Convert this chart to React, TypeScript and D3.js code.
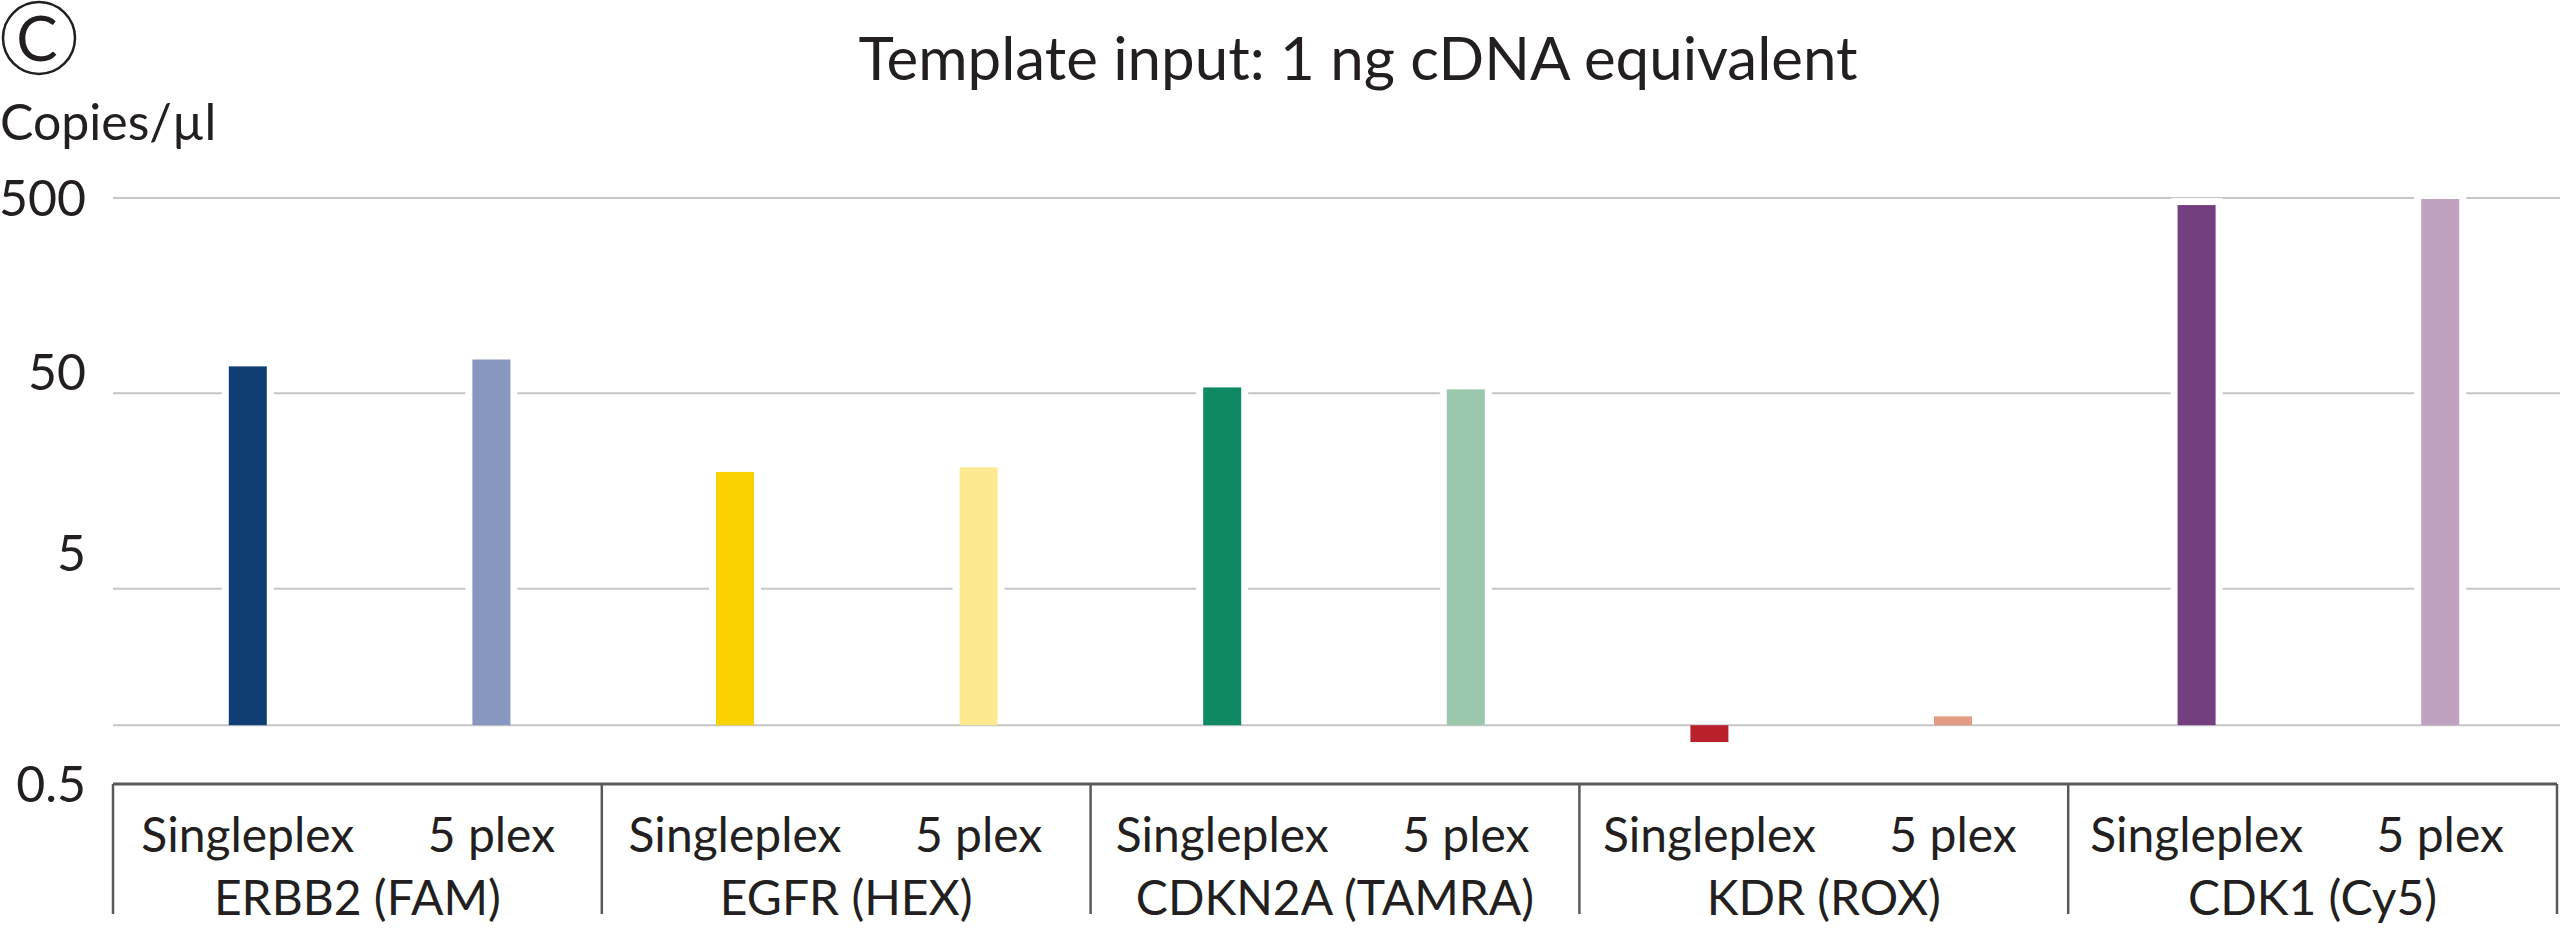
import { useMemo } from "react";
import * as d3 from "d3";

const GENES = ["ERBB2 (FAM)", "EGFR (HEX)", "CDKN2A (TAMRA)", "KDR (ROX)", "CDK1 (Cy5)"];
const ASSAYS = ["Singleplex", "5 plex"];
const SINGLEPLEX = [68.7, 19.8, 53.6, 0.82, 460];
const FIVE_PLEX = [74.5, 20.9, 52.4, 1.11, 494];
const Y_TICKS = [0.5, 5, 50, 500];
const Y_TICK_LABELS = ["0.5", "5", "50", "500"];

const SINGLE_COLORS = ["#103D73", "#F9D200", "#0E8963", "#B8202B", "#733F7F"];
const PLEX_COLORS = ["#8797C0", "#FDE98F", "#9BC8AD", "#E29A85", "#C0A2C0"];

// tick labels in the source sit a little above some gridlines
const TICK_SHIFT: Record<string, number> = { "0.5": 0, "5": -36, "50": -21, "500": 0 };

const W = 2560;
const H = 934;
const FONT = "Lato, 'Noto Sans', sans-serif";
const INK = "#231F20";
const GRID = "#C6C6C6";
const AXIS = "#58595B";
const BAR_W = 38;
const HALO = 7;

export default function App() {
  const rows = useMemo(
    () =>
      GENES.flatMap((g, i) => [
        { key: `${g}|${ASSAYS[0]}`, gene: g, assay: ASSAYS[0], value: SINGLEPLEX[i], color: SINGLE_COLORS[i] },
        { key: `${g}|${ASSAYS[1]}`, gene: g, assay: ASSAYS[1], value: FIVE_PLEX[i], color: PLEX_COLORS[i] },
      ]),
    [],
  );

  const y = d3.scaleLog().domain([0.5, 500]).range([784, 198]);
  const x = d3
    .scaleBand<string>()
    .domain(rows.map((r) => r.key))
    .range([126, 2562])
    .paddingInner(1 - BAR_W / 243.6)
    .paddingOuter((1 - BAR_W / 243.6) / 2);
  const group = d3.scaleBand<string>().domain(GENES).range([113, 2557]);

  const base = y(1);
  const axisY = y(0.5);
  const plotLeft = 113;

  return (
    <svg
      width={W}
      height={H}
      viewBox={`0 0 ${W} ${H}`}
      style={{ position: "absolute", left: 0, top: 0, display: "block", background: "#fff" }}
      fontFamily={FONT}
      fill={INK}
    >
      {/* panel letter */}
      <circle cx={39} cy={38} r={36} fill="none" stroke={INK} strokeWidth={2.5} />
      <text x={37} y={39} dy="0.36em" textAnchor="middle" fontSize={62}>
        C
      </text>

      <text x={1358} y={80} textAnchor="middle" fontSize={60}>
        Template input: 1 ng cDNA equivalent
      </text>
      <text x={0} y={140} fontSize={50}>
        Copies/µl
      </text>

      {/* gridlines */}
      {Y_TICKS.filter((t) => t > 0.5).map((t) => (
        <line key={t} x1={plotLeft} x2={W} y1={y(t)} y2={y(t)} stroke={GRID} strokeWidth={2} />
      ))}

      {/* y tick labels */}
      {Y_TICKS.map((t, i) => (
        <text
          key={t}
          x={86}
          y={y(t) + TICK_SHIFT[Y_TICK_LABELS[i]]}
          dy="0.36em"
          textAnchor="end"
          fontSize={50}
        >
          {Y_TICK_LABELS[i]}
        </text>
      ))}

      {/* white halos that break the gridlines around the bars */}
      {rows.map((r) => {
        const top = Math.min(y(r.value), base);
        const bot = Math.max(y(r.value), base);
        return (
          <rect
            key={`h-${r.key}`}
            x={(x(r.key) ?? 0) - HALO}
            y={top - HALO}
            width={x.bandwidth() + HALO * 2}
            height={bot - top + HALO - 2}
            fill="#fff"
          />
        );
      })}

      {/* axis crossing at 1 */}
      <line x1={plotLeft} x2={W} y1={base} y2={base} stroke={GRID} strokeWidth={2} />

      {/* bars */}
      {rows.map((r) => {
        const top = Math.min(y(r.value), base);
        const bot = Math.max(y(r.value), base);
        return (
          <rect
            key={r.key}
            x={x(r.key)}
            y={top}
            width={x.bandwidth()}
            height={bot - top}
            fill={r.color}
          />
        );
      })}

      {/* category axis */}
      <line x1={plotLeft} x2={2557} y1={axisY} y2={axisY} stroke={AXIS} strokeWidth={3} />
      {[...GENES.map((g) => group(g) ?? 0), 2557].map((gx, i) => (
        <line key={i} x1={gx} x2={gx} y1={axisY} y2={914} stroke={AXIS} strokeWidth={2.5} />
      ))}

      {rows.map((r) => (
        <text
          key={`l-${r.key}`}
          x={(x(r.key) ?? 0) + x.bandwidth() / 2}
          y={852}
          textAnchor="middle"
          fontSize={48}
        >
          {r.assay}
        </text>
      ))}
      {GENES.map((g) => (
        <text key={g} x={(group(g) ?? 0) + group.bandwidth() / 2} y={915} textAnchor="middle" fontSize={48}>
          {g}
        </text>
      ))}
    </svg>
  );
}
